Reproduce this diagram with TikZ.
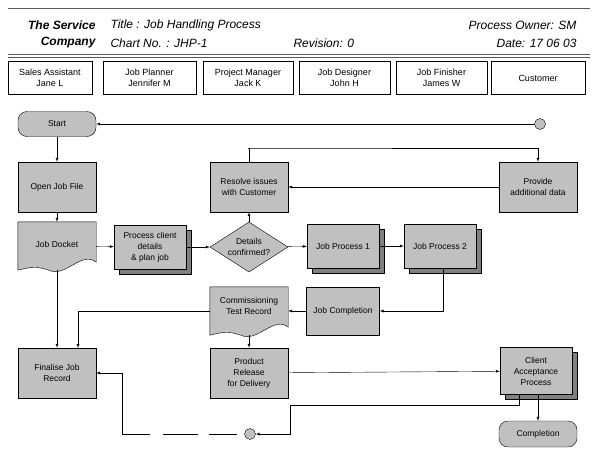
\documentclass[tikz,border=0pt]{standalone}
\usepackage{fontspec}
\setmainfont{Liberation Sans}
\usetikzlibrary{positioning,shapes.geometric,shadows,calc}

\definecolor{boxgray}{HTML}{C0C0C0}
\definecolor{shadegray}{HTML}{808080}

\tikzset{
	txt/.style={font=\fontsize{8.5}{11}\selectfont},
	box/.style={draw,fill=boxgray,minimum width=78pt,minimum height=50pt,align=center,inner sep=1pt,txt},
	stack/.style={box,minimum width=72pt,minimum height=44pt,copy shadow={shadow xshift=5pt,shadow yshift=-5pt,fill=shadegray}},
	term/.style={box,rounded corners=9pt,minimum height=25pt},
	decide/.style={draw,fill=boxgray,diamond,aspect=1.6,inner sep=0pt,minimum width=78pt,minimum height=50pt,align=center,txt},
	doc/.style={minimum width=78pt,minimum height=48pt,align=center,txt},
	lane/.style={draw,minimum height=33pt,align=center,font=\fontsize{9}{11.5}\selectfont},
	joint/.style={draw,fill=boxgray,circle,inner sep=0pt,minimum size=11pt},
	flow/.style={-latex,thin},
	head/.style={font=\fontsize{12}{14}\selectfont\itshape}
}

\newcommand{\docpath}[1]{%
	\draw[fill=boxgray] (#1.north west) -- (#1.north east) -- ($(#1.south east)+(0,-8)$)
	.. controls ($(#1.south)+(25,-20)$) and ($(#1.south)+(8,8)$) .. ($(#1.south)+(-8,0)$)
	.. controls ($(#1.south)+(-22,-4)$) .. (#1.south west) -- cycle;}

\begin{document}
\begin{tikzpicture}[x=1pt,y=-1pt]
	\useasboundingbox (0,0) rectangle (602,453);
	% header
	\draw[thick,gray!70!black] (8,8) -- (590,8);
	\draw[gray!70!black] (8,54) -- (590,54);
	\draw[gray!70!black] (8,57) -- (590,57);
	\node[head,font=\fontsize{12}{14}\selectfont\bfseries\itshape,anchor=east] (co1) at (99,25) {The Service};
	\node[head,font=\fontsize{12}{14}\selectfont\bfseries\itshape,anchor=east] (co2) at (99,43) {Company};
	\node[head,anchor=west] (title) at (107,25) {Title : Job Handling Process};
	\node[head,anchor=west] (chart) at (107,43) {Chart No. : JHP-1};
	\node[head,anchor=west] (rev) at (290,43) {Revision: 0};
	\node[head,anchor=east] (owner) at (580,25) {Process Owner: SM};
	\node[head,anchor=east] (date) at (580,43) {Date: 17 06 03};
	% lanes
	\node[lane,minimum width=84pt] (l1) at (50,78) {Sales Assistant\\Jane L};
	\node[lane,minimum width=93pt] (l2) at (149.5,78) {Job Planner\\Jennifer M};
	\node[lane,minimum width=90pt] (l3) at (248,78) {Project Manager\\Jack K};
	\node[lane,minimum width=91pt] (l4) at (344.5,78) {Job Designer\\John H};
	\node[lane,minimum width=91pt] (l5) at (441.5,78) {Job Finisher\\James W};
	\node[lane,minimum width=94pt] (l6) at (538,78) {Customer};
	% flow
	\node[term] (start) at (57,124) {Start};
	\node[joint] (top) at (540,124) {};
	\node[box] (open) at (57,187) {Open Job File};
	\node[doc] (docket) at (57,246) {};
	\docpath{docket}
	\node[txt] (dockettxt) at (57,244) {Job Docket};
	\node[stack] (plan) at (150,247) {Process client\\details\\\& plan job};
	\node[decide] (check) at (249,247) {Details\\confirmed?};
	\node[box] (resolve) at (249,187) {Resolve issues\\with Customer};
	\node[box] (provide) at (538,187) {Provide\\additional data};
	\node[stack] (jp1) at (343,246) {Job Process 1};
	\node[stack] (jp2) at (440,246) {Job Process 2};
	\node[box,minimum width=73pt,minimum height=48pt] (jobdone) at (343,311) {Job Completion};
	\node[doc] (test) at (249,311) {};
	\docpath{test}
	\node[txt,align=center] (testtxt) at (249,306) {Commissioning\\Test Record};
	\node[box] (finalise) at (57,373) {Finalise Job\\Record};
	\node[box] (release) at (249,373) {Product\\Release\\for Delivery};
	\node[stack,minimum height=47pt] (accept) at (536,371) {Client\\Acceptance\\Process};
	\node[term,minimum height=26pt] (finish) at (538,434) {Completion};
	\node[joint] (back) at (250,434) {};
	% connectors
	\draw[flow] (top) -- (start);
	\draw[flow] (start) -- (open);
	\draw[flow] (open) -- (docket);
	\draw[flow] (docket) -- (plan);
	\draw[flow] (plan) -- (check);
	\draw[flow] (check) -- (jp1);
	\draw[flow] (jp1) -- (jp2);
	\draw[flow] (check) -- (resolve);
	\draw[flow] (resolve.north) |- (248,148) -| (provide.north);
	\draw[flow] (provide) -- (resolve);
	\draw[flow] (jp2.south -| 443,0) |- (jobdone);
	\draw[flow] (jobdone) -- (test);
	\draw[flow] (test.west) -| (78,348);
	\draw[flow] (57,270) -- (finalise);
	\draw[flow] (test.south) -- (release);
	\draw[flow] (release) -- (accept);
	\draw[flow] (accept.south -| finish) -- (finish);
	\draw[flow] (accept.south -| 519,0) |- (290,405) |- (back);
	\draw[dash pattern=on 28pt off 13pt on 35pt off 11pt] (122,434) -- (back);
	\draw[flow] (122,434) |- (finalise);
\end{tikzpicture}
\end{document}
